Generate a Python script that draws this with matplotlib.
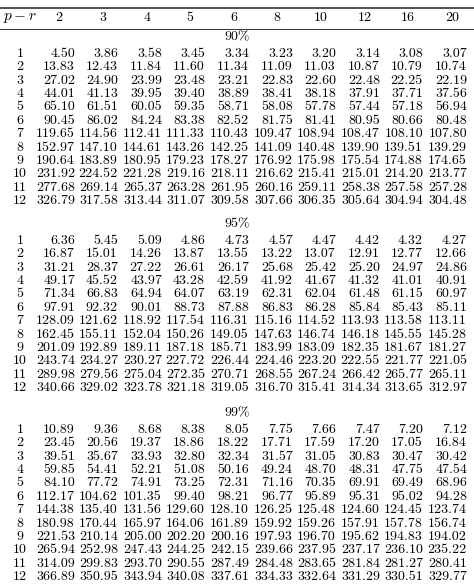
import matplotlib.pyplot as plt

plt.rcParams['font.family'] = 'cmr10'
plt.rcParams['mathtext.fontset'] = 'cm'
plt.rcParams['axes.unicode_minus'] = False

cols = [2, 3, 4, 5, 6, 8, 10, 12, 16, 20]
rows = list(range(1, 13))

v90 = [
	[4.50, 3.86, 3.58, 3.45, 3.34, 3.23, 3.20, 3.14, 3.08, 3.07],
	[13.83, 12.43, 11.84, 11.60, 11.34, 11.09, 11.03, 10.87, 10.79, 10.74],
	[27.02, 24.90, 23.99, 23.48, 23.21, 22.83, 22.60, 22.48, 22.25, 22.19],
	[44.01, 41.13, 39.95, 39.40, 38.89, 38.41, 38.18, 37.91, 37.71, 37.56],
	[65.10, 61.51, 60.05, 59.35, 58.71, 58.08, 57.78, 57.44, 57.18, 56.94],
	[90.45, 86.02, 84.24, 83.38, 82.52, 81.75, 81.41, 80.95, 80.66, 80.48],
	[119.65, 114.56, 112.41, 111.33, 110.43, 109.47, 108.94, 108.47, 108.10, 107.80],
	[152.97, 147.10, 144.61, 143.26, 142.25, 141.09, 140.48, 139.90, 139.51, 139.29],
	[190.64, 183.89, 180.95, 179.23, 178.27, 176.92, 175.98, 175.54, 174.88, 174.65],
	[231.92, 224.52, 221.28, 219.16, 218.11, 216.62, 215.41, 215.01, 214.20, 213.77],
	[277.68, 269.14, 265.37, 263.28, 261.95, 260.16, 259.11, 258.38, 257.58, 257.28],
	[326.79, 317.58, 313.44, 311.07, 309.58, 307.66, 306.35, 305.64, 304.94, 304.48],
]
v95 = [
	[6.36, 5.45, 5.09, 4.86, 4.73, 4.57, 4.47, 4.42, 4.32, 4.27],
	[16.87, 15.01, 14.26, 13.87, 13.55, 13.22, 13.07, 12.91, 12.77, 12.66],
	[31.21, 28.37, 27.22, 26.61, 26.17, 25.68, 25.42, 25.20, 24.97, 24.86],
	[49.17, 45.52, 43.97, 43.28, 42.59, 41.92, 41.67, 41.32, 41.01, 40.91],
	[71.34, 66.83, 64.94, 64.07, 63.19, 62.31, 62.04, 61.48, 61.15, 60.97],
	[97.91, 92.32, 90.01, 88.73, 87.88, 86.83, 86.28, 85.84, 85.43, 85.11],
	[128.09, 121.62, 118.92, 117.54, 116.31, 115.16, 114.52, 113.93, 113.58, 113.11],
	[162.45, 155.11, 152.04, 150.26, 149.05, 147.63, 146.74, 146.18, 145.55, 145.28],
	[201.09, 192.89, 189.11, 187.18, 185.71, 183.99, 183.09, 182.35, 181.67, 181.27],
	[243.74, 234.27, 230.27, 227.72, 226.44, 224.46, 223.20, 222.55, 221.77, 221.05],
	[289.98, 279.56, 275.04, 272.35, 270.71, 268.55, 267.24, 266.42, 265.77, 265.11],
	[340.66, 329.02, 323.78, 321.18, 319.05, 316.70, 315.41, 314.34, 313.65, 312.97],
]
v99 = [
	[10.89, 9.36, 8.68, 8.38, 8.05, 7.75, 7.66, 7.47, 7.20, 7.12],
	[23.45, 20.56, 19.37, 18.86, 18.22, 17.71, 17.59, 17.20, 17.05, 16.84],
	[39.51, 35.67, 33.93, 32.80, 32.34, 31.57, 31.05, 30.83, 30.47, 30.42],
	[59.85, 54.41, 52.21, 51.08, 50.16, 49.24, 48.70, 48.31, 47.75, 47.54],
	[84.10, 77.72, 74.91, 73.25, 72.31, 71.16, 70.35, 69.91, 69.49, 68.96],
	[112.17, 104.62, 101.35, 99.40, 98.21, 96.77, 95.89, 95.31, 95.02, 94.28],
	[144.38, 135.40, 131.56, 129.60, 128.10, 126.25, 125.48, 124.60, 124.45, 123.74],
	[180.98, 170.44, 165.97, 164.06, 161.89, 159.92, 159.26, 157.91, 157.78, 156.74],
	[221.53, 210.14, 205.00, 202.20, 200.16, 197.93, 196.70, 195.62, 194.83, 194.02],
	[265.94, 252.98, 247.43, 244.25, 242.15, 239.66, 237.95, 237.17, 236.10, 235.22],
	[314.09, 299.83, 293.70, 290.55, 287.49, 284.48, 283.65, 281.84, 281.27, 280.41],
	[366.89, 350.95, 343.94, 340.08, 337.61, 334.33, 332.64, 331.29, 330.51, 329.77],
]
blocks = [('90%', v90, 37), ('95%', v95, 224), ('99%', v99, 413)]

W, H = 474, 588
fig = plt.figure(figsize=(W / 100, H / 100), dpi=100)
ax = fig.add_axes([0, 0, 1, 1])
ax.set_xlim(0, W)
ax.set_ylim(H, 0)
ax.axis('off')

fs = 10
col_right = [75, 118, 162, 205, 249, 293, 336, 380, 423, 467]
col_head = [59, 103, 147, 190, 234, 277, 321, 365, 408, 452]

ax.plot([0, W], [8, 8], color='#333333', lw=1.2)
ax.plot([0, W], [29, 29], color='#333333', lw=0.7)

ax.text(20, 18, '$p-r$', ha='center', va='center', fontsize=fs + 1)
for c, x in zip(cols, col_head):
	ax.text(x, 18, str(c), ha='center', va='center', fontsize=fs)

step = 13.35
for label, vals, ylab in blocks:
	ax.text(W / 2, ylab, label, ha='center', va='center', fontsize=fs)
	y0 = ylab + 17
	for i, r in enumerate(rows):
		y = y0 + i * step
		ax.text(20, y, str(r), ha='center', va='center', fontsize=fs)
		for v, x in zip(vals[i], col_right):
			ax.text(x, y, '%.2f' % v, ha='right', va='center', fontsize=fs)

fig.savefig('out.png', dpi=100)
